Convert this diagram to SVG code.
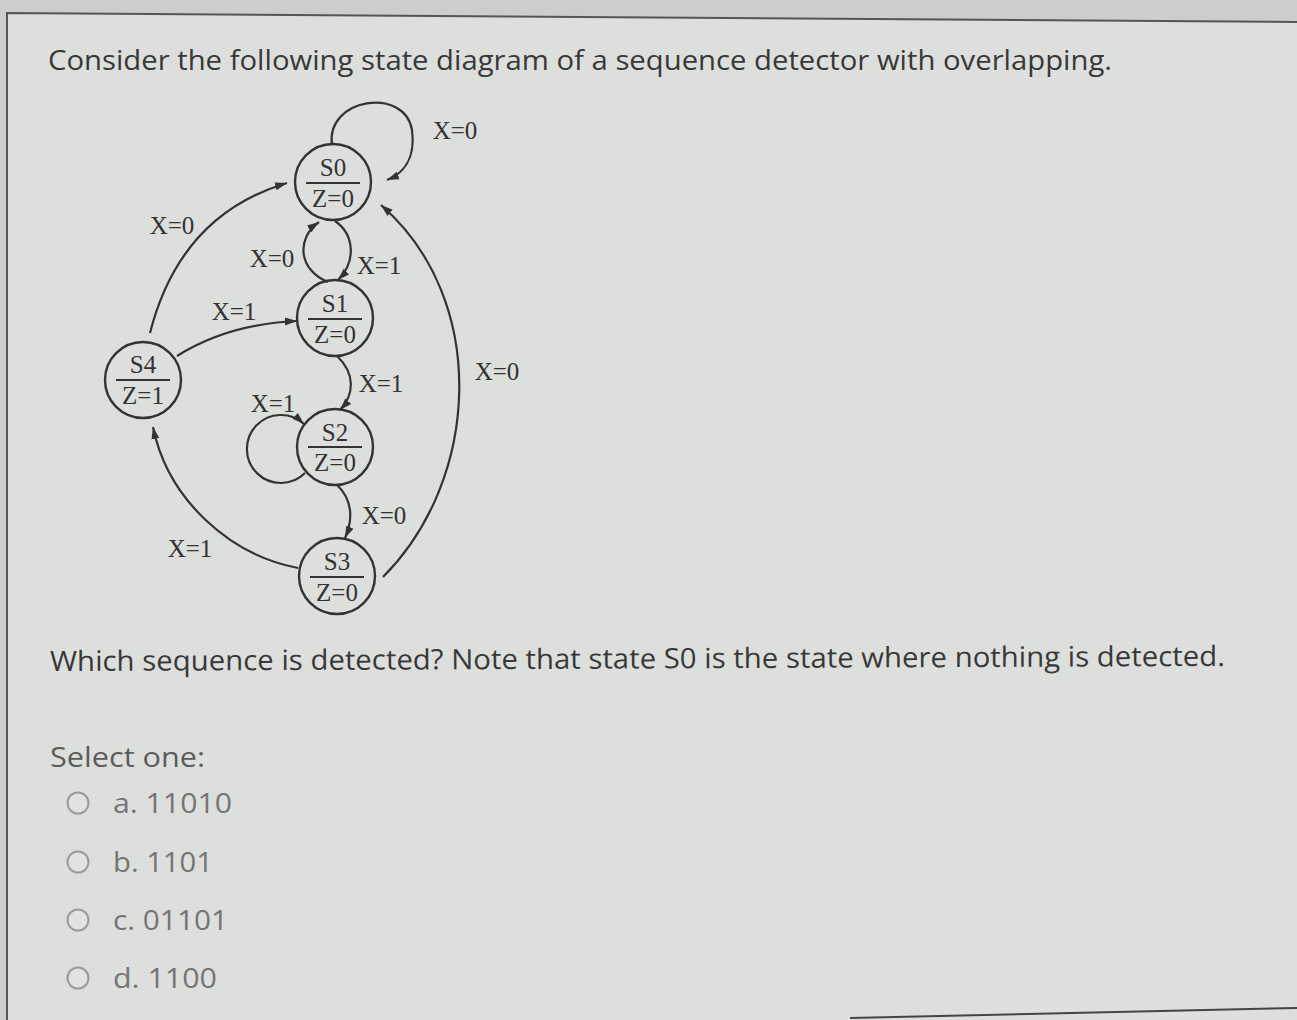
<svg xmlns="http://www.w3.org/2000/svg" width="1297" height="1020" viewBox="0 0 1297 1020">
<defs>
<marker id="ah" markerUnits="userSpaceOnUse" markerWidth="14" markerHeight="10" refX="12" refY="5" orient="auto">
<path d="M0,1 L12,5 L0,9 Z" fill="#333"/>
</marker>
<style>
.ui{font-family:"Open Sans","Liberation Sans",sans-serif;font-size:28px}
.q{fill:#383838}
.opt{fill:#747474}
.sel{fill:#5c5c5c}
.lbl{font-family:"Liberation Serif","Times New Roman",serif;font-size:25px;fill:#333;text-anchor:middle}
.node circle{fill:none;stroke:#333;stroke-width:2.4}
.node line{stroke:#333;stroke-width:2}
.edge{fill:none;stroke:#333;stroke-width:2.2;marker-end:url(#ah)}
.radio{fill:#e2e3e1;stroke:#9a9a9a;stroke-width:2}
</style>
</defs>
<rect x="0" y="0" width="1297" height="1020" fill="#cdcecb"/>
<polygon points="7,13 1297,22 1297,1020 7,1020" fill="#dddfdc"/>
<polyline points="7,1020 7,13 1297,22" fill="none" stroke="#555" stroke-width="2"/>
<line x1="850" y1="1018" x2="1297" y2="1008" stroke="#444" stroke-width="2"/>

<text class="ui q" x="48" y="70" textLength="1064" lengthAdjust="spacingAndGlyphs">Consider the following state diagram of a sequence detector with overlapping.</text>

<g id="connectors">
<path id="e-s0-s0" class="edge" d="M332,145 C325,98 405,86 412,130 C416,160 402,174 387,180"/>
<path id="e-s4-s0" class="edge" d="M150,333 Q180,215 287,183"/>
<path id="e-s0-s1" class="edge" d="M335,221 C355,235 356,262 338,280"/>
<path id="e-s1-s0" class="edge" d="M328,282 C298,270 296,238 319,222"/>
<path id="e-s4-s1" class="edge" d="M177,356 Q228,324 297,321"/>
<path id="e-s1-s2" class="edge" d="M337,356 C356,374 354,395 340,410"/>
<path id="e-s2-s2" class="edge" d="M305,473 A34,34 0 1 1 304,424"/>
<path id="e-s2-s3" class="edge" d="M337,485 C353,500 353,520 345,538"/>
<path id="e-s3-s4" class="edge" d="M298,568 C230,555 168,500 153,427"/>
<path id="e-s3-s0" class="edge" d="M383,577 C480,480 490,300 381,205"/>
<text class="lbl" x="455" y="139">X=0</text>
<text class="lbl" x="172" y="234">X=0</text>
<text class="lbl" x="272" y="267">X=0</text>
<text class="lbl" x="379" y="274">X=1</text>
<text class="lbl" x="234" y="320">X=1</text>
<text class="lbl" x="497" y="380">X=0</text>
<text class="lbl" x="381" y="392">X=1</text>
<text class="lbl" x="273" y="412">X=1</text>
<text class="lbl" x="384" y="524">X=0</text>
<text class="lbl" x="190" y="557">X=1</text>
</g>

<g id="S0" class="node"><circle cx="333" cy="182" r="38"/><line x1="306" y1="183" x2="360" y2="183"/><text class="lbl" x="333" y="176">S0</text><text class="lbl" x="333" y="207">Z=0</text></g>
<g id="S1" class="node"><circle cx="335" cy="318" r="38"/><line x1="308" y1="319" x2="362" y2="319"/><text class="lbl" x="335" y="312">S1</text><text class="lbl" x="335" y="343">Z=0</text></g>
<g id="S4" class="node"><circle cx="143" cy="380" r="38"/><line x1="116" y1="380" x2="170" y2="380"/><text class="lbl" x="143" y="373">S4</text><text class="lbl" x="143" y="404">Z=1</text></g>
<g id="S2" class="node"><circle cx="335" cy="447" r="38"/><line x1="308" y1="447" x2="362" y2="447"/><text class="lbl" x="335" y="441">S2</text><text class="lbl" x="335" y="471">Z=0</text></g>
<g id="S3" class="node"><circle cx="337" cy="576" r="38"/><line x1="310" y1="577" x2="364" y2="577"/><text class="lbl" x="337" y="570">S3</text><text class="lbl" x="337" y="601">Z=0</text></g>

<text class="ui q" x="50" y="671" textLength="1175" lengthAdjust="spacingAndGlyphs" transform="rotate(-0.25 50 671)">Which sequence is detected? Note that state S0 is the state where nothing is detected.</text>

<text class="ui sel" x="50" y="767" textLength="155" lengthAdjust="spacingAndGlyphs">Select one:</text>
<circle class="radio" cx="78" cy="803" r="10.5"/>
<text class="ui opt" x="113" y="813" textLength="119" lengthAdjust="spacingAndGlyphs">a. 11010</text>
<circle class="radio" cx="78" cy="862" r="10.5"/>
<text class="ui opt" x="113" y="872" textLength="100" lengthAdjust="spacingAndGlyphs">b. 1101</text>
<circle class="radio" cx="78" cy="920" r="10.5"/>
<text class="ui opt" x="113" y="930" textLength="115" lengthAdjust="spacingAndGlyphs">c. 01101</text>
<circle class="radio" cx="78" cy="978" r="10.5"/>
<text class="ui opt" x="113" y="988" textLength="104" lengthAdjust="spacingAndGlyphs">d. 1100</text>
</svg>
